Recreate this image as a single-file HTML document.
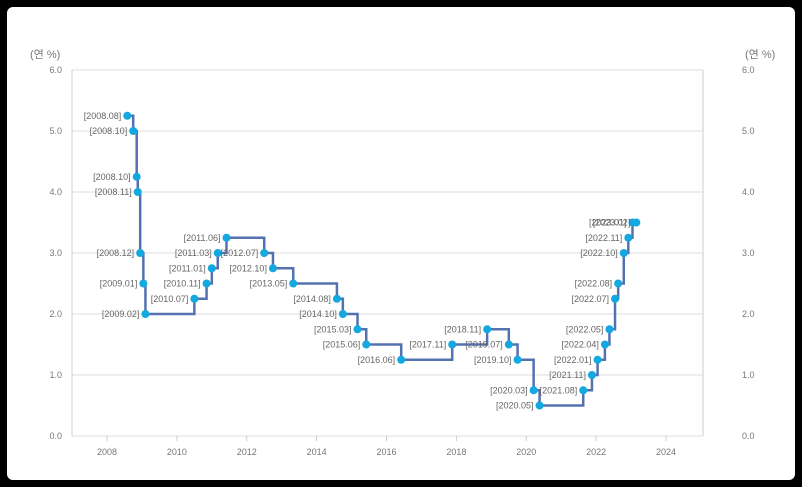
<!DOCTYPE html>
<html><head><meta charset="utf-8"><style>
body{margin:0;background:#000;width:802px;height:487px;overflow:hidden;font-family:"Liberation Sans","Noto Sans CJK KR",sans-serif}
#panel{position:absolute;left:7px;top:7px;width:788px;height:473px;background:#fff;border-radius:6px}
svg{position:absolute;left:0;top:0}
</style></head><body>
<div id="panel"></div>
<svg id="chart" width="802" height="487"></svg>
<script>
const dateLabels=["2008.08","2008.10","2008.10","2008.11","2008.12","2009.01","2009.02","2010.07","2010.11","2011.01","2011.03","2011.06","2012.07","2012.10","2013.05","2014.08","2014.10","2015.03","2015.06","2016.06","2017.11","2018.11","2019.07","2019.10","2020.03","2020.05","2021.08","2021.11","2022.01","2022.04","2022.05","2022.07","2022.08","2022.10","2022.11","2023.01","2023.02"];
const dateValues=[2008.58,2008.75,2008.85,2008.88,2008.95,2009.04,2009.1,2010.5,2010.85,2011.0,2011.17,2011.42,2012.5,2012.75,2013.33,2014.58,2014.75,2015.17,2015.42,2016.42,2017.88,2018.88,2019.5,2019.75,2020.21,2020.38,2021.63,2021.88,2022.04,2022.25,2022.38,2022.54,2022.63,2022.79,2022.92,2023.04,2023.15];
const rates=[5.25,5.0,4.25,4.0,3.0,2.5,2.0,2.25,2.5,2.75,3.0,3.25,3.0,2.75,2.5,2.25,2.0,1.75,1.5,1.25,1.5,1.75,1.5,1.25,0.75,0.5,0.75,1.0,1.25,1.5,1.75,2.25,2.5,3.0,3.25,3.5,3.5];
const xTicks=[2008,2010,2012,2014,2016,2018,2020,2022,2024];
const yTicks=[0,1,2,3,4,5,6];
const X=v=>107+(v-2008)*34.94;
const Y=v=>436-v*61;
const svg=document.getElementById('chart');
const NS='http://www.w3.org/2000/svg';
function mk(t,a,txt){const e=document.createElementNS(NS,t);for(const k in a)e.setAttribute(k,a[k]);if(txt!==undefined)e.textContent=txt;svg.appendChild(e);return e;}
yTicks.forEach(v=>{
 const g=mk('line',{x1:72,x2:703,y1:Y(v),y2:Y(v),stroke:'#dcdcdc','stroke-width':1});
 
 
 const l=mk('text',{x:62,y:Y(v)+3,'text-anchor':'end','font-size':9,fill:'#777'},v.toFixed(1));
 
 
 const r=mk('text',{x:742,y:Y(v)+3,'text-anchor':'start','font-size':9,fill:'#777'},v.toFixed(1));
 
 
});
let a=mk('line',{x1:72,x2:72,y1:Y(6),y2:436,stroke:'#ccc'});

a=mk('line',{x1:703,x2:703,y1:Y(6),y2:436,stroke:'#ccc'});

xTicks.forEach(v=>{
 const t=mk('line',{x1:X(v),x2:X(v),y1:436,y2:441,stroke:'#ccc'});
 
 
 const l=mk('text',{x:X(v),y:455,'text-anchor':'middle','font-size':9,fill:'#777'},String(v));
 
 
});
let t=mk('text',{x:30,y:58,'font-size':11,fill:'#777'},'(연 %)');

t=mk('text',{x:745,y:58,'font-size':11,fill:'#777'},'(연 %)');

let d='M'+X(dateValues[0])+','+Y(rates[0]);
for(let i=1;i<rates.length;i++){d+=' H'+X(dateValues[i])+' V'+Y(rates[i]);}
const p=mk('path',{d:d,fill:'none',stroke:'#5572b0','stroke-width':2.5});


for(let i=0;i<rates.length;i++){
 const c=mk('circle',{cx:X(dateValues[i]),cy:Y(rates[i]),r:4,fill:'#14a8e0'});
 
 
 const l=mk('text',{x:X(dateValues[i])-6,y:Y(rates[i])+3,'text-anchor':'end','font-size':9,fill:'#666'},'['+dateLabels[i]+']');
 
 
}
</script>
</body></html>
